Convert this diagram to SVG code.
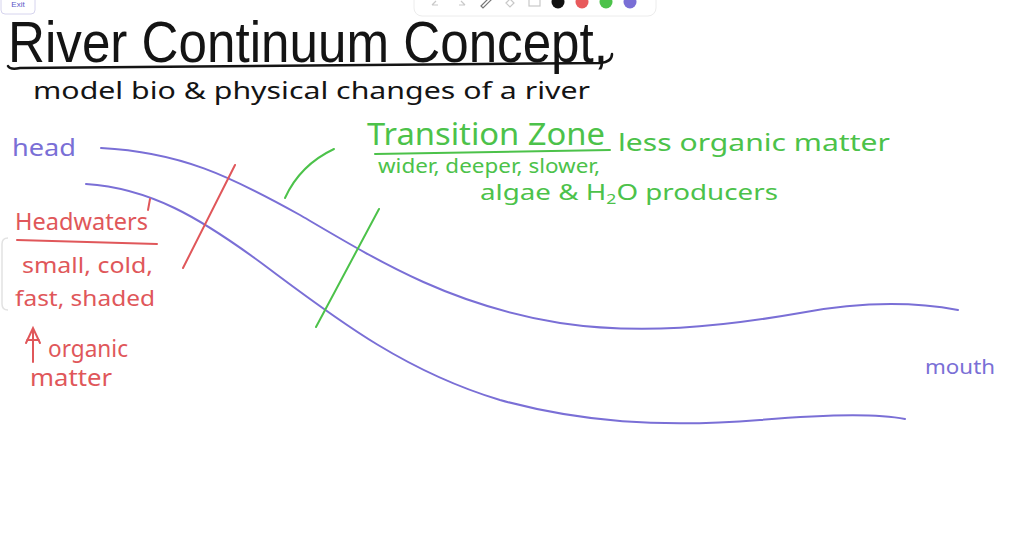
<svg xmlns="http://www.w3.org/2000/svg" width="1024" height="538" viewBox="0 0 1024 538">
<style>
.t{font-family:"Noto Sans","Liberation Sans",sans-serif;}
.k{fill:#141414}
.p{fill:#7a6fd6}
.r{fill:#e0575a}
.g{fill:#4cc24a}
.ps{stroke:#7a6fd6;stroke-width:2;fill:none;stroke-linecap:round}
.rs{stroke:#e0575a;stroke-width:2;fill:none;stroke-linecap:round}
.gs{stroke:#4cc24a;stroke-width:2;fill:none;stroke-linecap:round}
</style>
<rect width="1024" height="538" fill="#ffffff"/>
<g id="ui">
<rect x="1" y="-8" width="34" height="22" rx="4" fill="#fff" stroke="#d6d4ee" stroke-width="1"/>
<text x="18" y="7" font-size="8" font-family="Liberation Sans, sans-serif" fill="#5a57c8" text-anchor="middle">Exit</text>
<rect x="414" y="-12" width="242" height="28" rx="8" fill="#fff" stroke="#ececec" stroke-width="1"/>
<g fill="none" stroke="#c8c8c8" stroke-width="1.2">
<path d="M432 5 l4 -4 M432 5 h6"/>
<path d="M465 5 l-4 -4 M465 5 h-6"/>
<path d="M481 6 l8 -8 l2 2 l-8 8 z" stroke="#777"/>
<path d="M506 3 l4 -4 l4 4 l-4 4 z"/>
<rect x="529" y="-2" width="11" height="8"/>
</g>
<circle cx="558" cy="2" r="6.5" fill="#111"/>
<circle cx="582" cy="2" r="6.5" fill="#e85a5c"/>
<circle cx="606" cy="2" r="6.5" fill="#4cc24a"/>
<circle cx="630" cy="2" r="6.5" fill="#7a6fd6"/>
<path d="M8 238 Q2 238 2 244 V304 Q2 310 8 310" fill="none" stroke="#e2e2e2" stroke-width="1.5"/>
</g>
<g id="title">
<text x="8" y="62" font-size="58" font-family="Liberation Sans, sans-serif" fill="#141414" textLength="600" lengthAdjust="spacingAndGlyphs">River Continuum Concept,</text>
<path d="M8 66 Q10 70 20 68 L600 63 Q612 62 612 54" fill="none" stroke="#141414" stroke-width="2.5" stroke-linecap="round"/>
<text class="t k" x="33" y="99" font-size="24" textLength="557" lengthAdjust="spacingAndGlyphs">model bio &amp; physical changes of a river</text>
</g>
<g id="river">
<path class="ps" d="M101 148 C180 152 230 176 300 215 C380 262 450 305 560 323 C640 335 720 327 800 313 C870 300 920 303 958 310"/>
<path class="ps" d="M86 184 C150 188 200 218 260 262 C330 314 400 370 500 400 C580 422 660 428 760 420 C830 414 880 414 905 419"/>
<text class="t p" x="12" y="156" font-size="24" textLength="64" lengthAdjust="spacingAndGlyphs">head</text>
<text class="t p" x="925" y="374" font-size="20" textLength="70" lengthAdjust="spacingAndGlyphs">mouth</text>
</g>
<g id="headwaters">
<path class="rs" d="M235 165 L183 268"/>
<text class="t r" x="15" y="230" font-size="24" textLength="133" lengthAdjust="spacingAndGlyphs">Headwaters</text>
<path class="rs" d="M150 199 L148 210"/>
<path class="rs" d="M17 240 L157 244"/>
<text class="t r" x="22" y="273" font-size="22" textLength="131" lengthAdjust="spacingAndGlyphs">small, cold,</text>
<text class="t r" x="15" y="306" font-size="22" textLength="140" lengthAdjust="spacingAndGlyphs">fast, shaded</text>
<path class="rs" d="M33 362 V330 M26 343 L33 328 L40 343 M27 340 H39"/>
<text class="t r" x="48" y="357" font-size="24" textLength="80" lengthAdjust="spacingAndGlyphs">organic</text>
<text class="t r" x="30" y="386" font-size="24" textLength="82" lengthAdjust="spacingAndGlyphs">matter</text>
</g>
<g id="transition">
<path class="gs" d="M379 209 L316 327"/>
<path class="gs" d="M334 149 Q300 165 285 198"/>
<text class="t g" x="367" y="145" font-size="30" textLength="238" lengthAdjust="spacingAndGlyphs">Transition Zone</text>
<path class="gs" d="M375 154 L610 150"/>
<text class="t g" x="378" y="173" font-size="19" textLength="222" lengthAdjust="spacingAndGlyphs">wider, deeper, slower,</text>
<text class="t g" x="618" y="151" font-size="24" textLength="272" lengthAdjust="spacingAndGlyphs">less organic matter</text>
<text class="t g" x="480" y="200" font-size="22" textLength="298" lengthAdjust="spacingAndGlyphs">algae &amp; H<tspan font-size="14" dy="4">2</tspan><tspan dy="-4">O producers</tspan></text>
</g>
</svg>
